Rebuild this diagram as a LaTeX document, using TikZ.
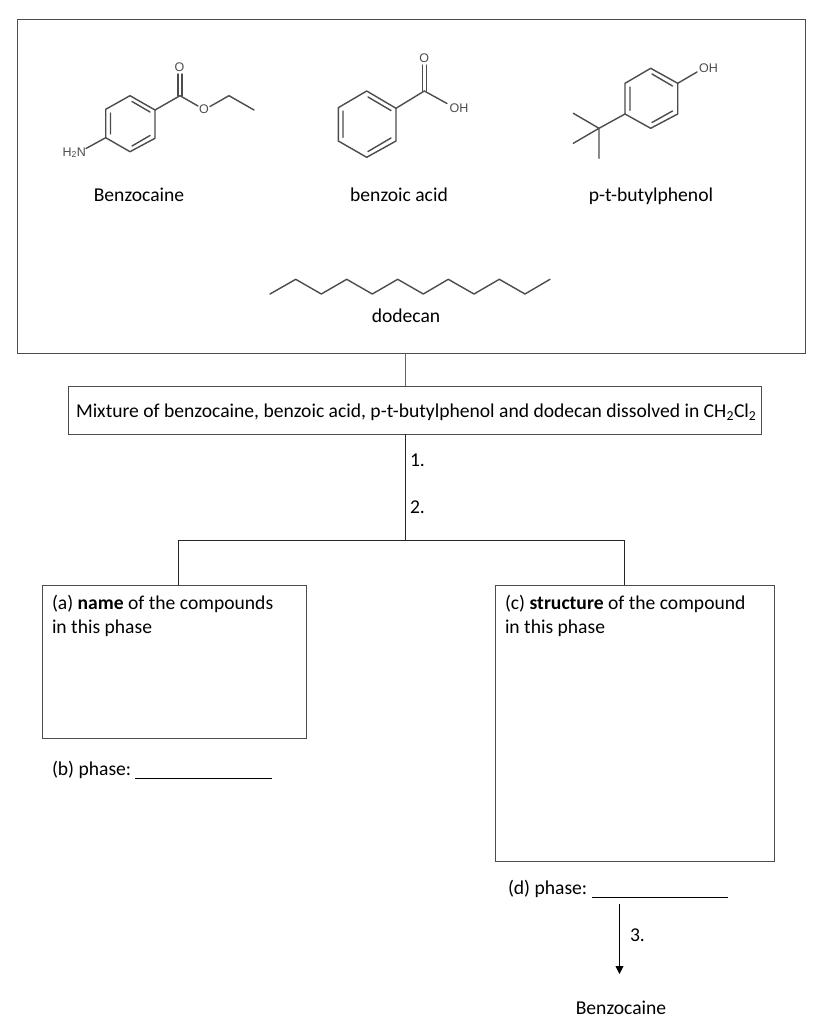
\documentclass[tikz,border=0pt]{standalone}
\usepackage{fontspec}
\setmainfont{Carlito}
\newfontfamily\chemfont{Liberation Sans}
\usetikzlibrary{arrows.meta}
\tikzset{
  boxa/.style={draw=black!70,line width=0.9pt,minimum width=#1,inner sep=0pt,outer sep=0pt},
  lab/.style={inner sep=0pt,outer sep=0pt,anchor=base west,font=\fontsize{19.6}{22}\selectfont,text=black},
  labc/.style={lab,anchor=base},
  bond/.style={draw=black!70,line width=1.4pt,line cap=round,line join=round},
  atom/.style={inner sep=0pt,font=\chemfont\fontsize{12.5}{14}\selectfont,text=black!70},
  wire/.style={draw=black!85,line width=0.9pt},
  rule/.style={draw=black,line width=1pt}
}
\begin{document}
\begin{tikzpicture}[x=1pt,y=-1pt]
\useasboundingbox (0,0) rectangle (824,1024);
% boxes
\node[boxa=788pt,minimum height=334pt] (top) at (411,186) {};
\node[boxa=693pt,minimum height=48pt] (mix) at (414.5,410) {};
\node[boxa=264pt,minimum height=153pt] (boxA) at (174,661.5) {};
\node[boxa=279pt,minimum height=276pt] (boxC) at (634.5,723) {};
% connectors
\coordinate (j1) at (405,540);
\coordinate (jl) at (178,540);
\coordinate (jr) at (624,540);
\coordinate (ustart) at (619.5,904);
\coordinate (uend) at (619.5,974);
\draw[draw=black!60,line width=0.9pt] (top.south -| j1) -- (mix.north -| j1);
\draw[wire] (mix.south -| j1) -- (j1);
\draw[wire] (jl |- boxA.north) -- (jl) -- (jr) -- (jr |- boxC.north);
\draw[draw=black,line width=0.9pt,-{Triangle[length=8pt,width=8pt]}] (ustart) -- (uend);
% benzocaine
\node[atom] (nh) at (74.3,152.7) {H\textsubscript{2}N};
\node[atom] (oa) at (179.5,67.3) {O};
\node[atom] (ob) at (204,109.3) {O};
\draw[bond] (105.7,109.3) -- (130,95.7) -- (155,110) -- (155,138.3) -- (130,151.7) -- (105.7,137.7) -- cycle;
\draw[bond] (105.7,137.7) -- (86,148.5);
\draw[bond] (155,110) -- (180,95.7) -- (198,106);
\draw[bond] (210,106.5) -- (229,95.7) -- (254,110);
\draw[bond] (178,95.7) -- (178,74) (182,95.7) -- (182,74);
\draw[bond] (110.5,113) -- (110.5,134) (132,101.5) -- (150,112) (150,135.5) -- (132,146);
% benzoic acid
\node[atom] (oc) at (424.3,58.3) {O};
\node[atom] (ohb) at (459,108) {OH};
\draw[bond] (366.7,91) -- (396,108.3) -- (396,141) -- (366.7,157.3) -- (338.3,141) -- (338.3,107.7) -- cycle;
\draw[bond] (396,108.3) -- (424.3,91) -- (447,103.5);
\draw[bond] (422.3,91) -- (422.3,65) (426.3,91) -- (426.3,65);
\draw[bond] (343,111) -- (343,137.5) (368,97) -- (391,110.5) (391,138) -- (368,151.5);
% butylphenol
\node[atom] (ohc) at (708.5,68.5) {OH};
\draw[bond] (650.7,68.3) -- (677.7,83.3) -- (677.7,114) -- (650.7,128.3) -- (625,114) -- (625,83.3) -- cycle;
\draw[bond] (677.7,83.3) -- (697,72);
\draw[bond] (625,114) -- (599,128.3) -- (573.3,113.3) (599,128.3) -- (573.3,143.3) (599,128.3) -- (599,158.3);
\draw[bond] (630,87) -- (630,110.5) (652,74) -- (672.5,86) (672.5,111) -- (652,122.5);
% dodecane
\draw[bond] (270,294) -- (295.7,279.3) -- (321.3,294) -- (346.7,279.3) -- (372.3,294) -- (397.7,279.3) -- (423.3,294) -- (448.3,279.3) -- (474,294) -- (499.3,279.3) -- (525,294) -- (550,279.3);
% labels
\node[labc] (t1) at (139,202) {Benzocaine};
\node[labc] (t2) at (399,202) {benzoic acid};
\node[labc] (t3) at (651,202) {p-t-butylphenol};
\node[labc] (t4) at (406,322) {dodecan};
\node[lab] (t5) at (76,417.5) {Mixture of benzocaine, benzoic acid, p-t-butylphenol and dodecan dissolved in CH\textsubscript{2}Cl\textsubscript{2}};
\node[lab] (s1) at (410,466.5) {1.};
\node[lab] (s2) at (410,513.5) {2.};
\node[lab] (a1) at (52,609.5) {(a) \textbf{name} of the compounds};
\node[lab] (a2) at (52,633) {in this phase};
\node[lab] (c1) at (505,609.5) {(c) \textbf{structure} of the compound};
\node[lab] (c2) at (505,633) {in this phase};
\node[lab] (b) at (52,775.5) {(b) phase:};
\node[lab] (d) at (508,894.5) {(d) phase:};
\node[lab] (s3) at (630,941.5) {3.};
\node[labc] (end) at (621,1014) {Benzocaine};
\draw[rule] (135,778) -- (272,778);
\draw[rule] (592,897) -- (728,897);
\end{tikzpicture}
\end{document}
